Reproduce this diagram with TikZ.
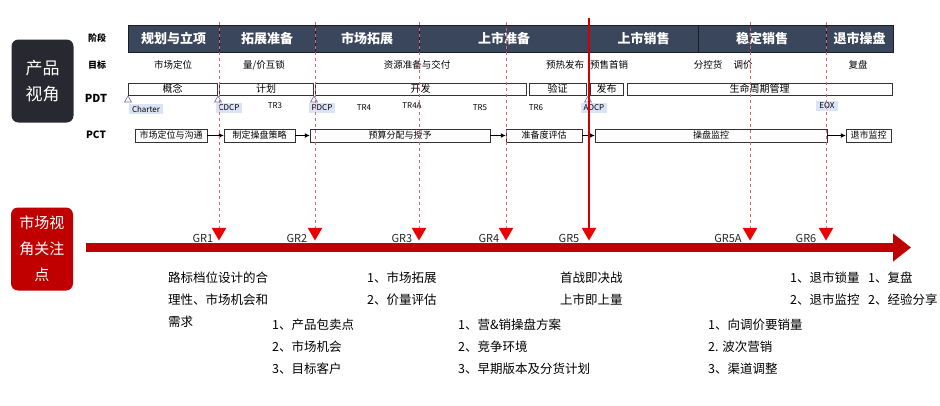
\documentclass[tikz,border=0pt]{standalone}
\usepackage{fontspec}
\setmainfont{Noto Sans CJK SC}
\usetikzlibrary{shapes.geometric,arrows.meta}
\definecolor{stagebg}{RGB}{58,70,92}
\definecolor{stageline}{RGB}{25,30,40}
\definecolor{darkbox}{RGB}{40,40,48}
\definecolor{deepred}{RGB}{192,0,0}
\definecolor{tri}{RGB}{235,0,0}
\definecolor{guide}{RGB}{222,100,110}
\definecolor{msbg}{RGB}{218,228,246}
\definecolor{msline}{RGB}{110,110,170}

\begin{document}
\begin{tikzpicture}[x=1pt,y=-1pt,
  stagebox/.style={fill=stagebg,draw=stageline,line width=0.8pt,minimum height=27,inner sep=0,text=white,font=\bfseries\fontsize{13}{13}\selectfont},
  goal/.style={font=\fontsize{9.5}{10}\selectfont},
  rowlab/.style={font=\bfseries\fontsize{9}{9}\selectfont},
  phase/.style={draw=black!80,fill=white,line width=0.5pt,minimum height=12,inner sep=0,font=\fontsize{10}{10}\selectfont},
  task/.style={draw=black!80,fill=white,line width=0.5pt,minimum height=13,inner sep=0,font=\fontsize{9}{9}\selectfont},
  ms/.style={regular polygon,regular polygon sides=3,draw=msline,line width=0.6pt,minimum size=8,inner sep=0},
  mslab/.style={fill=msbg,inner xsep=3pt,inner ysep=1.5pt,font=\fontsize{8}{8}\selectfont},
  tr/.style={font=\fontsize{8}{8}\selectfont},
  gate/.style={regular polygon,regular polygon sides=3,shape border rotate=180,fill=tri,minimum size=17,inner sep=0},
  gatelab/.style={font=\fontsize{11}{11}\selectfont,text=black!85},
  note/.style={anchor=north west,align=left,inner sep=0,font=\fontsize{12.5}{22}\selectfont},
  viewbox/.style={rounded corners=7pt,minimum width=62,minimum height=83,inner sep=0,text=white,align=center}]
\path[use as bounding box,fill=white] (0,0) rectangle (940,405);

\node[viewbox,fill=darkbox,font=\fontsize{17}{26}\selectfont] (prod) at (42.5,81) {产品\\视角};
\node[viewbox,fill=deepred,font=\fontsize{15}{26}\selectfont] (mkt) at (42,249) {市场视\\角关注\\点};

\node[rowlab] (r1) at (97,38) {阶段};
\node[rowlab] (r2) at (97,65) {目标};
\node[rowlab,font=\bfseries\fontsize{11}{11}\selectfont] (r3) at (96,98) {PDT};
\node[rowlab,font=\bfseries\fontsize{10}{10}\selectfont] (r4) at (96,135) {PCT};

\node[stagebox,minimum width=91] (s1) at (173.5,38.5) {规划与立项};
\node[stagebox,minimum width=96] (s2) at (267,38.5) {拓展准备};
\node[stagebox,minimum width=104] (s3) at (367,38.5) {市场拓展};
\node[stagebox,minimum width=170] (s4) at (504,38.5) {上市准备};
\node[stagebox,minimum width=109] (s5) at (643.5,38.5) {上市销售};
\node[stagebox,minimum width=128] (s6) at (762,38.5) {稳定销售};
\node[stagebox,minimum width=67] (s7) at (859.5,38.5) {退市操盘};

\node[goal] (o1) at (173,65) {市场定位};
\node[goal] (o2) at (264,65) {量/价互锁};
\node[goal] (o3) at (417,65) {资源准备与交付};
\node[goal] (o4) at (565,65) {预热发布};
\node[goal] (o5) at (609,65) {预售首销};
\node[goal] (o6) at (708,65) {分控货};
\node[goal] (o7) at (743,65) {调价};
\node[goal] (o8) at (858,65) {复盘};

\node[phase,minimum width=89] (p1) at (172.5,89) {概念};
\node[phase,minimum width=94] (p2) at (266,89) {计划};
\node[phase,minimum width=211] (p3) at (420.5,89) {开发};
\node[phase,minimum width=57] (p4) at (557.5,89) {验证};
\node[phase,minimum width=33] (p5) at (606.5,89) {发布};
\node[phase,minimum width=265] (p6) at (759.5,89) {生命周期管理};

\node[mslab] (m1) at (146,109) {Charter};
\node[mslab] (m2) at (229,108) {CDCP};
\node[mslab] (m3) at (322,108) {PDCP};
\node[mslab] (m4) at (594,108) {ADCP};
\node[mslab] (m5) at (827,106) {EOX};
\node[ms] (t1) at (128,100) {};
\node[ms] (t2) at (218,100) {};
\node[ms] (t3) at (314,100) {};
\node[ms] (t4) at (588,100) {};
\node[tr] (tr3) at (275,106) {TR3};
\node[tr] (tr4) at (364,108) {TR4};
\node[tr] (tr4a) at (412,106) {TR4A};
\node[tr] (tr5) at (480,108) {TR5};
\node[tr] (tr6) at (536,108) {TR6};

\node[task,minimum width=72] (c1) at (171,135.5) {市场定位与沟通};
\node[task,minimum width=71] (c2) at (259.5,135.5) {制定操盘策略};
\node[task,minimum width=180] (c3) at (400,135.5) {预算分配与授予};
\node[task,minimum width=76] (c4) at (544,135.5) {准备度评估};
\node[task,minimum width=232] (c5) at (711,135.5) {操盘监控};
\node[task,minimum width=45] (c6) at (868.5,135.5) {退市监控};
\draw[-{Latex[length=5pt,width=5pt]},line width=0.8pt] (c1)--(c2);
\draw[-{Latex[length=5pt,width=5pt]},line width=0.8pt] (c2)--(c3);
\draw[-{Latex[length=5pt,width=5pt]},line width=0.8pt] (c3)--(c4);
\draw[-{Latex[length=5pt,width=5pt]},line width=0.8pt] (c4)--(c5);
\draw[-{Latex[length=5pt,width=5pt]},line width=0.8pt] (c5)--(c6);

\coordinate (a0) at (86,247.5);
\coordinate (a1) at (911,247.5);
\draw[deepred,line width=9pt,-{Triangle[length=18pt,width=27pt]}] (a0)--(a1);

\node[gate] (g1) at (219,232) {};
\node[gate] (g2) at (315,232) {};
\node[gate] (g3) at (419,232) {};
\node[gate] (g4) at (506,232) {};
\node[gate] (g5) at (589,232) {};
\node[gate] (g6) at (750,232) {};
\node[gate] (g7) at (826,232) {};
\node[gatelab] (gl1) at (203,238) {GR1};
\node[gatelab] (gl2) at (297,238) {GR2};
\node[gatelab] (gl3) at (402,238) {GR3};
\node[gatelab] (gl4) at (489,238) {GR4};
\node[gatelab] (gl5) at (569,238) {GR5};
\node[gatelab] (gl6) at (728,238) {GR5A};
\node[gatelab] (gl7) at (806,238) {GR6};

\coordinate (d1) at (219,22);
\coordinate (d2) at (315,22);
\coordinate (d3) at (419,22);
\coordinate (d4) at (506,22);
\coordinate (d5) at (589,18);
\coordinate (d6) at (750,22);
\coordinate (d7) at (826,22);
\draw[guide,dashed,line width=0.6pt] (d1)--(g1.north);
\draw[guide,dashed,line width=0.6pt] (d2)--(g2.north);
\draw[guide,dashed,line width=0.6pt] (d3)--(g3.north);
\draw[guide,dashed,line width=0.6pt] (d4)--(g4.north);
\draw[guide,dashed,line width=0.6pt] (d6)--(g6.north);
\draw[guide,dashed,line width=0.6pt] (d7)--(g7.north);
\draw[tri!90!black,line width=1.3pt] (d5)--(g5.north);

\node[note] (n1) at (168,272) {路标档位设计的合\\理性、市场机会和\\需求};
\node[note] (n2) at (272,319) {1、产品包卖点\\2、市场机会\\3、目标客户};
\node[note] (n3) at (367,272) {1、市场拓展\\2、价量评估};
\node[note] (n4) at (458,319) {1、营\&销操盘方案\\2、竞争环境\\3、早期版本及分货计划};
\node[note] (n5) at (560,272) {首战即决战\\上市即上量};
\node[note] (n6) at (708,319) {1、向调价要销量\\2. 波次营销\\3、渠道调整};
\node[note] (n7) at (790,272) {1、退市锁量\\2、退市监控};
\node[note] (n8) at (868,272) {1、复盘\\2、经验分享};
\end{tikzpicture}
\end{document}
